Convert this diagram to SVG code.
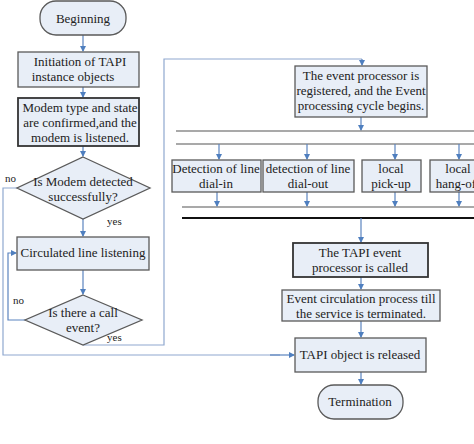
<svg xmlns="http://www.w3.org/2000/svg" width="474" height="444" viewBox="0 0 474 444">
<style>
.box{fill:#e8eef7;stroke:#5a5a5a;stroke-width:1.3}
.thick{stroke:#333;stroke-width:1.8}
.t{font-family:"Liberation Serif","Times New Roman",serif;font-size:13px;fill:#222;text-anchor:middle}
.lbl{font-family:"Liberation Serif","Times New Roman",serif;font-size:11px;fill:#222}
.c{fill:none;stroke:#5b84bf;stroke-width:1.2}
.lc{fill:none;stroke:#8fa8cf;stroke-width:1.2}
.bar{stroke:#555;stroke-width:1.2}
</style>
<defs>
<marker id="ah" markerWidth="6" markerHeight="6" refX="5" refY="3" orient="auto" markerUnits="userSpaceOnUse">
<path d="M0,0 L6,3 L0,6 z" fill="#4f7fbf"/>
</marker>
</defs>
<rect width="474" height="444" fill="#fff"/>
<g id="connectors">
<line class="c" x1="83" y1="35" x2="83" y2="51" marker-end="url(#ah)"/>
<line class="c" x1="83" y1="87" x2="83" y2="97" marker-end="url(#ah)"/>
<line class="c" x1="83" y1="146" x2="83" y2="156" marker-end="url(#ah)"/>
<line class="c" x1="83" y1="219" x2="83" y2="236" marker-end="url(#ah)"/>
<line class="c" x1="83" y1="270" x2="83" y2="294" marker-end="url(#ah)"/>
<polyline class="c" points="25,320 8,320 8,253 16,253" marker-end="url(#ah)"/>
<polyline class="lc" points="83,345 164,345 164,59 362,59"/>
<line class="c" x1="362" y1="59" x2="362" y2="65" marker-end="url(#ah)"/>
<polyline class="lc" points="17,188 3,188 3,355 280,355"/>
<line class="c" x1="270" y1="355" x2="294" y2="355" marker-end="url(#ah)"/>
<line class="c" x1="361" y1="117" x2="361" y2="130" marker-end="url(#ah)"/>
<line class="bar" x1="176" y1="131" x2="474" y2="131"/>
<line class="bar" x1="176" y1="144" x2="474" y2="144"/>
<line class="c" x1="219" y1="144" x2="219" y2="159" marker-end="url(#ah)"/>
<line class="c" x1="307" y1="144" x2="307" y2="159" marker-end="url(#ah)"/>
<line class="c" x1="395" y1="144" x2="395" y2="159" marker-end="url(#ah)"/>
<line class="c" x1="459" y1="144" x2="459" y2="159" marker-end="url(#ah)"/>
<line class="c" x1="217" y1="192" x2="217" y2="206" marker-end="url(#ah)"/>
<line class="c" x1="307" y1="192" x2="307" y2="206" marker-end="url(#ah)"/>
<line class="c" x1="395" y1="192" x2="395" y2="206" marker-end="url(#ah)"/>
<line class="c" x1="459" y1="192" x2="459" y2="206" marker-end="url(#ah)"/>
<line class="bar" x1="182" y1="207" x2="474" y2="207"/>
<line x1="182" y1="218" x2="474" y2="218" stroke="#111" stroke-width="1.8"/>
<line class="c" x1="361" y1="218" x2="361" y2="242" marker-end="url(#ah)"/>
<line class="c" x1="361" y1="277" x2="361" y2="289" marker-end="url(#ah)"/>
<line class="c" x1="361" y1="321" x2="361" y2="337" marker-end="url(#ah)"/>
<line class="c" x1="361" y1="372" x2="361" y2="384" marker-end="url(#ah)"/>
<text class="lbl" x="5" y="182">no</text>
<text class="lbl" x="107" y="225">yes</text>
<text class="lbl" x="13" y="304">no</text>
<text class="lbl" x="107" y="341">yes</text>
</g>
<g id="beginning">
<rect class="box" x="40" y="1" width="86" height="34" rx="16"/>
<text class="t" x="83" y="23">Beginning</text>
</g>
<g id="init">
<rect class="box" x="18" y="52" width="121" height="35"/>
<text class="t" x="80" y="66">Initiation of TAPI</text>
<text class="t" x="73" y="81">instance objects</text>
</g>
<g id="modem">
<rect class="box thick" x="18" y="98" width="121" height="48"/>
<text class="t" x="80" y="112">Modem type and state</text>
<text class="t" x="80" y="127">are confirmed,and the</text>
<text class="t" x="80" y="142">modem is listened.</text>
</g>
<g id="detected">
<polygon class="box" points="83,157 150,188 83,219 17,188"/>
<text class="t" x="83" y="186">Is Modem detected</text>
<text class="t" x="83" y="201">successfully?</text>
</g>
<g id="listening">
<rect class="box" x="17" y="237" width="132" height="33"/>
<text class="t" x="83" y="257">Circulated line listening</text>
</g>
<g id="callevent">
<polygon class="box" points="83,295 142,320 83,345 25,320"/>
<text class="t" x="83" y="317">Is there a call</text>
<text class="t" x="83" y="332">event?</text>
</g>
<g id="processor">
<rect class="box" x="295" y="66" width="132" height="51"/>
<text class="t" x="361" y="80">The event processor is</text>
<text class="t" x="361" y="95">registered, and the Event</text>
<text class="t" x="361" y="110">processing cycle begins.</text>
</g>
<g id="dialin">
<rect class="box" x="172" y="160" width="89" height="32"/>
<text class="t" x="216" y="173">Detection of line</text>
<text class="t" x="216" y="188">dial-in</text>
</g>
<g id="dialout">
<rect class="box" x="263" y="160" width="91" height="32"/>
<text class="t" x="308" y="173">detection of line</text>
<text class="t" x="308" y="188">dial-out</text>
</g>
<g id="pickup">
<rect class="box" x="362" y="160" width="59" height="32"/>
<text class="t" x="391" y="173">local</text>
<text class="t" x="391" y="188">pick-up</text>
</g>
<g id="hangup">
<rect class="box" x="430" y="160" width="60" height="32"/>
<text class="t" x="458" y="173">local</text>
<text class="t" x="458" y="188">hang-off</text>
</g>
<g id="tapicalled">
<rect class="box thick" x="293" y="243" width="135" height="34"/>
<text class="t" x="360" y="257">The TAPI event</text>
<text class="t" x="360" y="272">processor is called</text>
</g>
<g id="circulation">
<rect class="box" x="282" y="290" width="158" height="31"/>
<text class="t" x="361" y="303">Event circulation process till</text>
<text class="t" x="361" y="318">the service is terminated.</text>
</g>
<g id="released">
<rect class="box" x="295" y="338" width="131" height="34"/>
<text class="t" x="360" y="359">TAPI object is released</text>
</g>
<g id="termination">
<rect class="box" x="318" y="385" width="85" height="34" rx="16"/>
<text class="t" x="360" y="406">Termination</text>
</g>
</svg>
